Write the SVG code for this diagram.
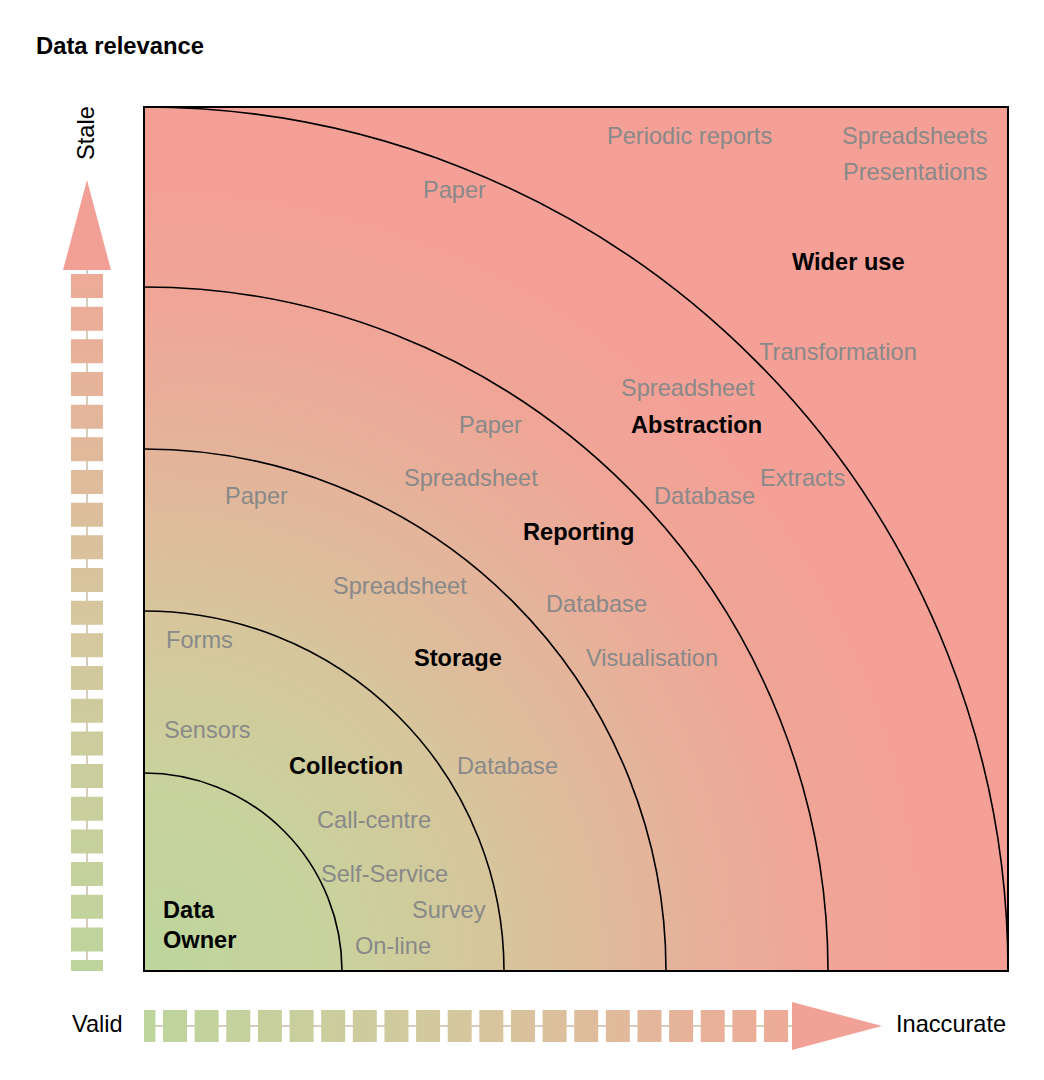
<svg xmlns="http://www.w3.org/2000/svg" width="1044" height="1080" viewBox="0 0 1044 1080">
<defs>
<radialGradient id="bg" gradientUnits="userSpaceOnUse" cx="144" cy="971" r="780">
<stop offset="0" stop-color="#bcd69c"/>
<stop offset="0.25" stop-color="#c9d29c"/>
<stop offset="0.45" stop-color="#d6c69c"/>
<stop offset="0.65" stop-color="#e3b59b"/>
<stop offset="0.85" stop-color="#efa697"/>
<stop offset="1" stop-color="#f4a096"/>
</radialGradient>
<linearGradient id="vg" gradientUnits="userSpaceOnUse" x1="0" y1="971" x2="0" y2="270">
<stop offset="0" stop-color="#bdd59c"/>
<stop offset="0.5" stop-color="#d5c79e"/>
<stop offset="1" stop-color="#eeaa98"/>
</linearGradient>
<linearGradient id="hg" gradientUnits="userSpaceOnUse" x1="144" y1="0" x2="792" y2="0">
<stop offset="0" stop-color="#bdd59c"/>
<stop offset="0.5" stop-color="#d5c79e"/>
<stop offset="1" stop-color="#eeaa98"/>
</linearGradient>
</defs>
<style>
text{font-family:"Liberation Sans",Arial,sans-serif}
.g{font-size:23.6px;fill:#898989}
.b{font-size:23.6px;font-weight:bold;fill:#000}
.t{font-size:23.8px;font-weight:bold;fill:#000}
.a{font-size:23.6px;fill:#000}
.arc{fill:none;stroke:#000;stroke-width:1.6}
.core{stroke:#c9bda7;stroke-width:1.5}
</style>
<text class="t" x="36" y="54">Data relevance</text>
<g id="axis-y">
<line class="core" x1="87" y1="270" x2="87" y2="971"/>
<line x1="87" y1="274" x2="87" y2="971" stroke="url(#vg)" stroke-width="32" stroke-dasharray="24 8.67"/>
<polygon points="87,180 111,270 63,270" fill="#f2a096"/>
<text class="a" transform="translate(94,160) rotate(-90)">Stale</text>
</g>
<g id="axis-x">
<line class="core" x1="144" y1="1026" x2="792" y2="1026"/>
<line x1="788" y1="1026" x2="144" y2="1026" stroke="url(#hg)" stroke-width="32" stroke-dasharray="24 7.63"/>
<polygon points="792,1002 882,1026 792,1050" fill="#f2a197"/>
<text class="a" x="72" y="1032">Valid</text>
<text class="a" x="896" y="1032">Inaccurate</text>
</g>
<g id="field">
<rect x="144" y="107" width="864" height="864" fill="url(#bg)"/>
</g>
<g id="connectors">
<path class="arc" d="M144,773 A198,198 0 0 1 342,971"/>
<path class="arc" d="M144,611 A360,360 0 0 1 504,971"/>
<path class="arc" d="M144,449 A522,522 0 0 1 666,971"/>
<path class="arc" d="M144,287 A684,684 0 0 1 828,971"/>
<path class="arc" d="M144,107 A864,864 0 0 1 1008,971"/>
<rect x="144" y="107" width="864" height="864" fill="none" stroke="#000" stroke-width="2"/>
</g>
<g id="data-owner">
<text class="b" x="163" y="918">Data</text>
<text class="b" x="163" y="948">Owner</text>
</g>
<g id="collection">
<text class="b" x="289" y="774">Collection</text>
<text class="g" x="166" y="648">Forms</text>
<text class="g" x="164" y="738">Sensors</text>
<text class="g" x="317" y="828">Call-centre</text>
<text class="g" x="321" y="882">Self-Service</text>
<text class="g" x="412" y="918">Survey</text>
<text class="g" x="355" y="954">On-line</text>
</g>
<g id="storage">
<text class="b" x="414" y="666">Storage</text>
<text class="g" x="225" y="504">Paper</text>
<text class="g" x="333" y="594">Spreadsheet</text>
<text class="g" x="457" y="774">Database</text>
</g>
<g id="reporting">
<text class="b" x="523" y="540">Reporting</text>
<text class="g" x="459" y="433">Paper</text>
<text class="g" x="404" y="486">Spreadsheet</text>
<text class="g" x="546" y="612">Database</text>
<text class="g" x="586" y="666">Visualisation</text>
</g>
<g id="abstraction">
<text class="b" x="631" y="433">Abstraction</text>
<text class="g" x="621" y="396">Spreadsheet</text>
<text class="g" x="654" y="504">Database</text>
</g>
<g id="wider-use">
<text class="b" x="792" y="270">Wider use</text>
<text class="g" x="423" y="198">Paper</text>
<text class="g" x="607" y="144">Periodic reports</text>
<text class="g" x="842" y="144">Spreadsheets</text>
<text class="g" x="843" y="180">Presentations</text>
<text class="g" x="759" y="360">Transformation</text>
<text class="g" x="760" y="486">Extracts</text>
</g>
</svg>
